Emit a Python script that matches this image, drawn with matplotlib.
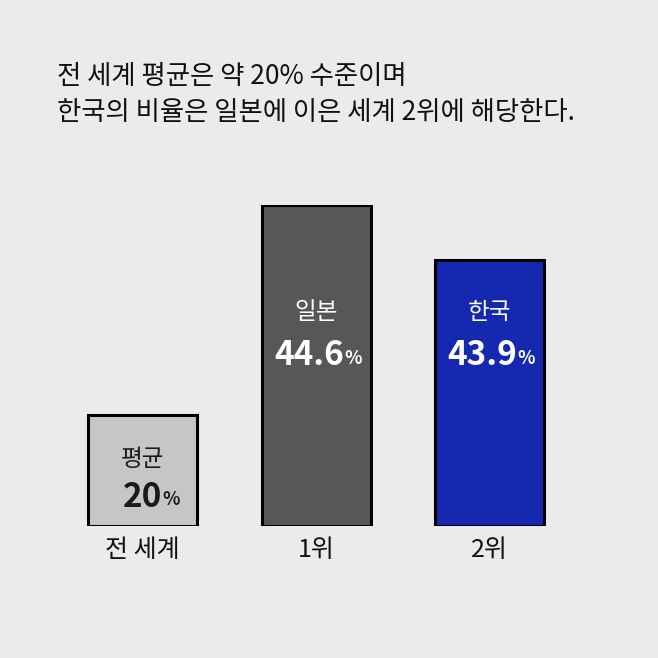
import matplotlib.pyplot as plt

plt.rcParams['font.family'] = ['Noto Sans CJK KR', 'DejaVu Sans']

# 데이터
categories = ['전 세계', '1위', '2위']
names = ['평균', '일본', '한국']
values = ['20', '44.6', '43.9']
bar_heights = [34.6, 100, 82.9]  # 그림에서 읽은 막대 길이 (상대값)
colors = ['#c6c6c6', '#575757', '#1428b0']
name_colors = ['#1a1a1a', 'white', 'white']
title_lines = ['전 세계 평균은 약 20% 수준이며', '한국의 비율은 일본에 이은 세계 2위에 해당한다.']

fig = plt.figure(figsize=(6.58, 6.58), dpi=100)
fig.patch.set_facecolor('#ebebeb')

ax = fig.add_axes([0.085, 0.2006, 0.791, 0.488])
ax.set_facecolor('none')
x = range(len(categories))
ax.bar(x, bar_heights, width=0.63, color=colors, edgecolor='black', linewidth=2.2)
ax.set_xlim(-0.5, 2.5)
ax.set_ylim(0, 100)
ax.axis('off')

for i in x:
    if i == 0:
        y_name, y_val, dx = 20.6, 9.0, 14
    else:
        y_name, y_val, dx = 66.4, 53.0, 20
    ax.text(i, y_name, names[i], ha='center', va='center', fontsize=17,
            color=name_colors[i], fontweight='medium')
    ax.annotate(values[i], xy=(i, y_val), xytext=(dx, 0), textcoords='offset points',
                ha='right', va='center', fontsize=24, fontweight='black', color=name_colors[i])
    ax.annotate('%', xy=(i, y_val), xytext=(dx, -2), textcoords='offset points',
                ha='left', va='center', fontsize=13, fontweight='black', color=name_colors[i])
    ax.text(i, -7.5, categories[i], ha='center', va='center', fontsize=18,
            color='#111111', clip_on=False)

fig.text(57 / 658, 1 - 76 / 658, title_lines[0], ha='left', va='center', fontsize=19,
         fontweight='medium', color='#111111')
fig.text(57 / 658, 1 - 113 / 658, title_lines[1], ha='left', va='center', fontsize=19,
         fontweight='medium', color='#111111')

fig.savefig('out.png', dpi=100, facecolor=fig.get_facecolor())
